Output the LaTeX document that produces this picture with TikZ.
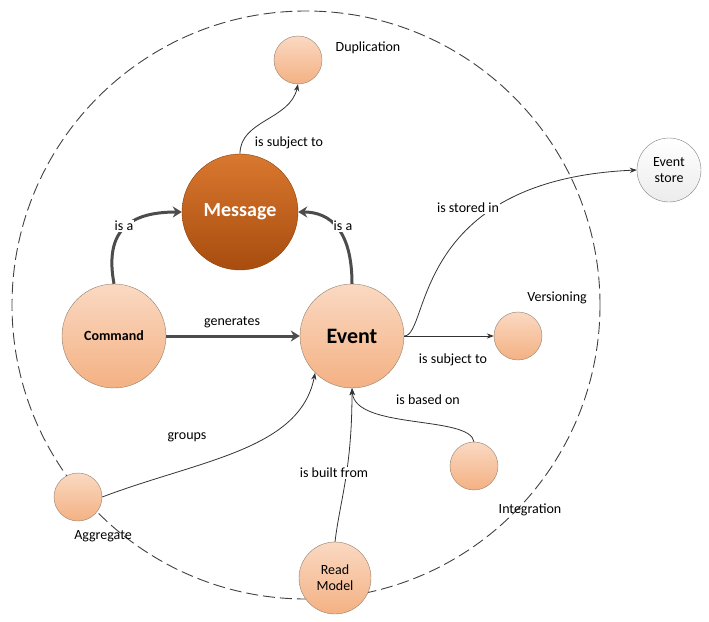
\documentclass[tikz,border=0pt]{standalone}
\usepackage{fontspec}
\setmainfont{Carlito}
\usetikzlibrary{arrows.meta}
\definecolor{lo}{HTML}{F4B183}
\definecolor{lot}{HTML}{FAD9C2}
\definecolor{dko}{HTML}{C55A11}
\definecolor{dkt}{HTML}{D9782F}
\begin{document}
\begin{tikzpicture}[x=1pt,y=-1pt,
  fs/.style={font=\fontsize{14}{16}\selectfont},
  lc/.style={circle,draw=gray!70!brown,top color=lot,bottom color=lo,inner sep=0pt,fs,align=center},
  lbl/.style={fs,fill=white,inner sep=1pt},
  thin/.style={draw=black!80,line width=0.8pt,-{Stealth[length=7pt]}},
  thick/.style={draw=black!70,line width=3pt,-{Stealth[length=9pt,width=11pt]}}]
\useasboundingbox (0,0) rectangle (709,621);
\draw[dash pattern=on 12pt off 5pt,line width=0.9pt,black!75] (306,305) circle (294);
\node[lc,minimum size=48pt] (dup) at (298,60) {};
\node[fs] (duplbl) at (368,48) {Duplication};
\node[circle,draw=dko!70!black,top color=dkt,bottom color=dko!85!black,minimum size=116pt,inner sep=0pt,text=white,font=\fontsize{20}{24}\selectfont\bfseries] (msg) at (240,212) {Message};
\node[lc,minimum size=104pt,font=\fontsize{14}{16}\selectfont\bfseries] (cmd) at (114,336) {Command};
\node[lc,minimum size=104pt,font=\fontsize{22}{26}\selectfont\bfseries] (ev) at (352,336) {Event};
\node[circle,draw=gray,top color=white,bottom color=gray!15,minimum size=64pt,inner sep=0pt,fs,align=center] (store) at (669,170) {Event\\store};
\node[lc,minimum size=48pt] (ver) at (518,336) {};
\node[fs] (verlbl) at (557,298) {Versioning};
\node[lc,minimum size=48pt] (int) at (474,466) {};
\node[fs] (intlbl) at (530,510) {Integration};
\node[lc,minimum size=48pt] (agg) at (78,497) {};
\node[fs] (agglbl) at (103,536) {Aggregate};
\node[lc,minimum size=72pt] (rm) at (335,578) {Read\\Model};

\draw[thin] (msg.north) .. controls (240,120) and (290,120) .. (dup.south);
\node[lbl] at (289,143) {is subject to};
\draw[thick] (cmd.north) .. controls (104,230) and (130,212) .. (msg.west);
\node[lbl] at (124,226) {is a};
\draw[thick] (ev.north) .. controls (352,230) and (330,212) .. (msg.east);
\node[lbl] at (343,226) {is a};
\draw[thick] (cmd.east) -- (ev.west);
\node[fs] at (232,322) {generates};
\draw[thin] (ev.east) .. controls (430,336) and (410,180) .. (store.west);
\node[lbl] at (468,208) {is stored in};
\draw[thin] (ev.east) -- (ver.west);
\node[fs] at (453,360) {is subject to};
\draw[thin] (int.north) .. controls (470,415) and (355,430) .. (ev.south);
\node[lbl] at (428,400) {is based on};
\draw[thin] (rm.north) .. controls (340,500) and (352,470) .. (ev.south);
\node[lbl] at (334,473) {is built from};
\draw[thin] (agg.east) .. controls (200,460) and (300,450) .. (ev.south west);
\node[fs] at (187,437) {groups};
\end{tikzpicture}
\end{document}
